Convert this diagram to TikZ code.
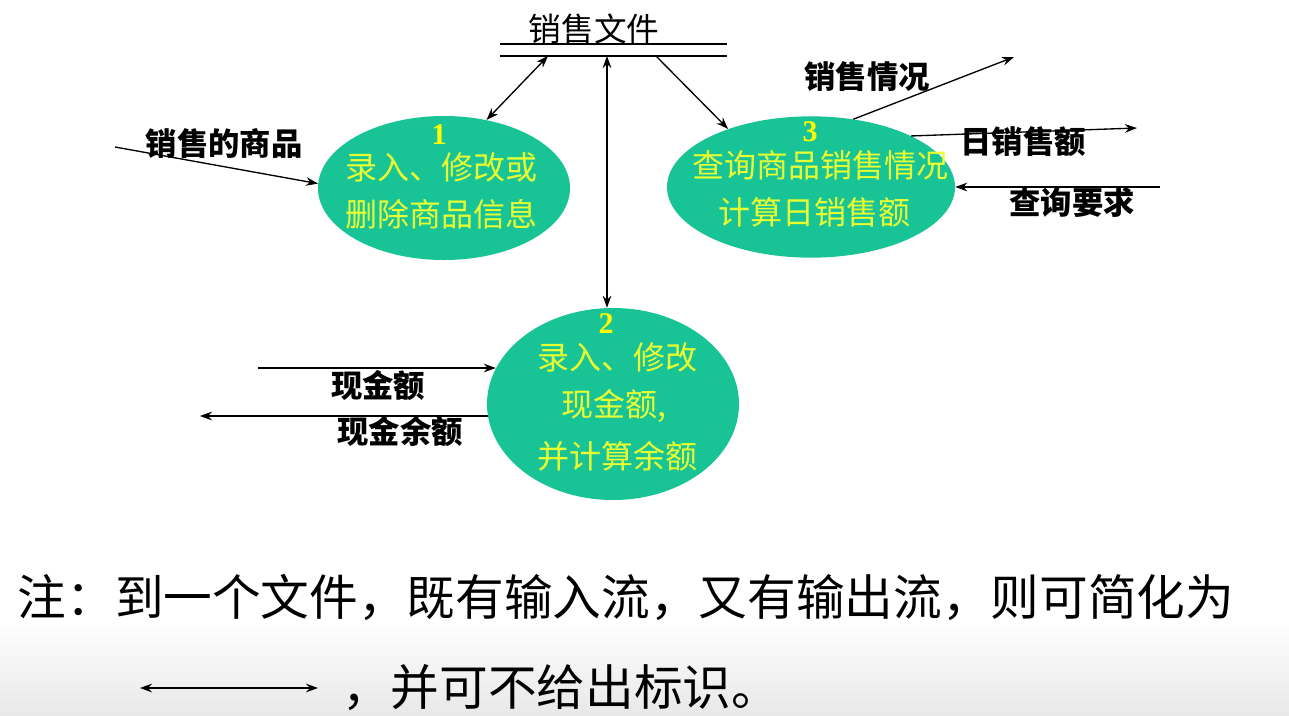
\documentclass[tikz,border=0pt]{standalone}
\usepackage{fontspec}
\newfontfamily\cjk{Noto Sans CJK SC}
\newfontfamily\numfont{Liberation Serif}
\usetikzlibrary{arrows.meta,shapes.geometric}
\definecolor{procgreen}{RGB}{24,196,150}
\definecolor{proctext}{RGB}{232,255,50}
\definecolor{numyellow}{RGB}{255,255,0}
\begin{document}
\begin{tikzpicture}[x=0.75pt,y=-0.75pt,
  proc/.style={ellipse, fill=procgreen, draw=none, inner sep=0pt},
  ptext/.style={font=\cjk\fontsize{24}{28}\selectfont, text=proctext, inner sep=0pt},
  pnum/.style={font=\numfont\bfseries\fontsize{22.5}{24}\selectfont, text=numyellow, inner sep=0pt},
  lbl/.style={font=\cjk\bfseries\fontsize{23.5}{27}\selectfont, inner sep=0pt},
  note/.style={font=\cjk\fontsize{36.5}{40}\selectfont, inner sep=0pt},
  flow/.style={line width=1pt, -{Stealth[length=9pt,width=6.5pt]}},
  dflow/.style={line width=1pt, {Stealth[length=9pt,width=6.5pt]}-{Stealth[length=9pt,width=6.5pt]}},
]
\useasboundingbox (0,0) rectangle (1289,715);
\fill[white] (0,0) rectangle (1289,715);
\shade[top color=white, bottom color=black!9] (0,620) rectangle (1289,715);

% data store
\draw[line width=1pt] (500,44) -- (727,44);
\draw[line width=1pt] (500,56) -- (727,56);
\node[font=\cjk\fontsize{24.5}{27}\selectfont, inner sep=0pt] (fname) at (594,29) {销售文件};
\coordinate (f1) at (548,56);
\coordinate (f2) at (607,56);
\coordinate (f3) at (656,56);

% processes
\node[proc, minimum width=189pt, minimum height=108pt] (e1) at (444,188) {};
\node[pnum] (n1) at (439,135) {1};
\node[ptext] (t1a) at (441,167) {录入、修改或};
\node[ptext] (t1b) at (441,214) {删除商品信息};

\node[proc, minimum width=216pt, minimum height=106pt] (e3) at (811,187) {};
\node[pnum] (n3) at (810,132) {3};
\node[ptext] (t3a) at (820,165) {查询商品销售情况};
\node[ptext] (t3b) at (814,212) {计算日销售额};

\node[proc, minimum width=189pt, minimum height=144pt] (e2) at (613,404) {};
\node[pnum] (n2) at (606,324) {2};
\node[ptext] (t2a) at (617,357) {录入、修改};
\node[ptext] (t2b) at (614,406) {现金额,};
\node[ptext] (t2c) at (617,456) {并计算余额};

% flows to/from store
\draw[dflow] (f1) -- (e1.58);
\draw[dflow] (f2) -- (f2 |- e2.north);
\draw[flow] (f3) -- (e3.145);

% external flows
\coordinate (s1) at (115,147);
\draw[flow] (s1) -- (e1.178);
\node[lbl] (l1) at (224,144) {销售的商品};

\coordinate (s2) at (1014,57);
\draw[flow] (e3.58) -- (s2);
\node[lbl] (l2) at (867,77) {销售情况};

\coordinate (s3) at (1137,128);
\draw[flow] (e3.27) -- (s3);
\node[lbl] (l3) at (1023,142) {日销售额};

\coordinate (s4) at (1160,187);
\draw[flow] (s4) -- (e3.east);
\node[lbl] (l4) at (1072,203) {查询要求};

\coordinate (s5) at (258,368);
\draw[flow] (s5) -- (s5 -| e2.163);
\node[lbl] (l5) at (378,385) {现金额};

\coordinate (s6) at (200,416);
\draw[flow] (s6 -| e2.186) -- (s6);
\node[lbl] (l6) at (400,431) {现金余额};

% note
\node[note] (note1) at (626,597) {注：到一个文件，既有输入流，又有输出流，则可简化为};
\coordinate (b1) at (140,688);
\coordinate (b2) at (318,688);
\draw[dflow] (b1) -- (b2);
\node[note, anchor=west] (note2) at (342,688) {，并可不给出标识。};
\end{tikzpicture}
\end{document}
